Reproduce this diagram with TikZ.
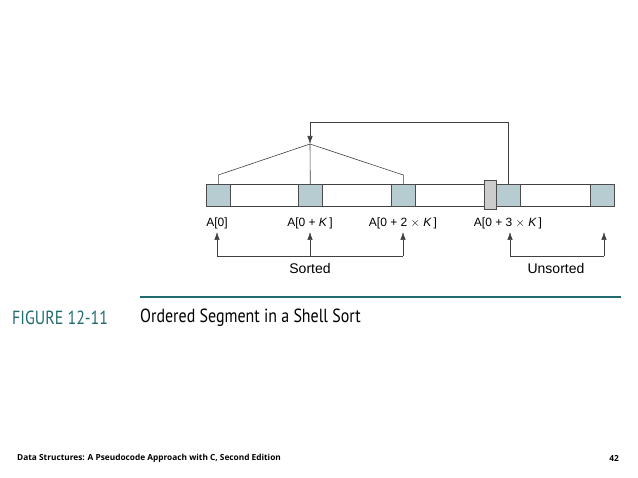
\documentclass[tikz,border=0pt]{standalone}
\usepackage{fontspec}
\usetikzlibrary{arrows.meta}
\setmainfont{Liberation Sans}
\newfontfamily\titlefont[FakeStretch=0.84]{PT Sans}
\newfontfamily\footfont{Open Sans}
\definecolor{cell}{HTML}{B7CCD1}
\definecolor{figteal}{HTML}{1F6B70}
\begin{document}
\begin{tikzpicture}[x=1pt,y=-1pt,
  cellbox/.style={draw=black!70,fill=cell,line width=0.6pt},
  ln/.style={draw=black!75,line width=0.6pt},
  arr/.style={ln,-{Latex[length=8pt,width=5.5pt]}},
  lab/.style={font=\fontsize{12}{13}\selectfont,inner sep=0pt}]
\useasboundingbox (0,0) rectangle (638,478);
\fill[white] (0,0) rectangle (638,478);
\draw[ln] (206,184) rectangle (614,206);
\foreach \n/\a in {c0/206,c1/298,c2/391,c3/496,c4/590}
  \node[cellbox,minimum width=24pt,minimum height=22pt,inner sep=0pt,anchor=north west] (\n) at (\a,184) {};
\node[draw=black!70,fill=black!20,line width=0.6pt,minimum width=12pt,minimum height=29pt,inner sep=0pt,anchor=north west] (g) at (484,180) {};
\coordinate (apex) at (310,144);
\coordinate (t1) at (310,122);
\draw[ln] (c3.north) |- (t1);
\draw[arr] (t1) -- (apex);
\draw[ln] (c0.north) -- ++(0,-9) -- (apex) -- (c1.north);
\draw[ln] (c2.north) -- ++(0,-9) -- (apex);
\node[lab] (l0) at (217,223) {A[0]};
\node[lab] (l1) at (310,223) {A[0 + \textit{K}\,]};
\node[lab] (l2) at (403,223) {A[0 + 2 $\times$ \textit{K}\,]};
\node[lab] (l3) at (508,223) {A[0 + 3 $\times$ \textit{K}\,]};
\foreach \x in {217,310,403} \draw[arr] (\x,256) -- (\x,232);
\draw[ln] (217,256) -- (403,256);
\draw[arr] (510,256) -- (510,232);
\draw[arr] (604,256) -- (604,232);
\draw[ln] (510,256) -- (604,256);
\node[lab,font=\fontsize{14}{15}\selectfont] (s) at (310,268) {Sorted};
\node[lab,font=\fontsize{14}{15}\selectfont] (us) at (556,268) {Unsorted};
\draw[figteal,line width=1.6pt] (140,297) -- (621,297);
\node[anchor=west,inner sep=0pt,text=figteal,font=\titlefont\fontsize{19}{20}\selectfont] (f) at (12,318) {FIGURE 12-11};
\node[anchor=west,inner sep=0pt,font=\titlefont\fontsize{19}{20}\selectfont] (t) at (140,318) {Ordered Segment in a Shell Sort};
\node[anchor=west,inner sep=0pt,font=\footfont\bfseries\fontsize{8.3}{9}\selectfont] (ft) at (17,458) {Data Structures: A Pseudocode Approach with C, Second Edition};
\node[anchor=east,inner sep=0pt,font=\footfont\bfseries\fontsize{8.3}{9}\selectfont] (pg) at (619,458) {42};
\end{tikzpicture}
\end{document}
